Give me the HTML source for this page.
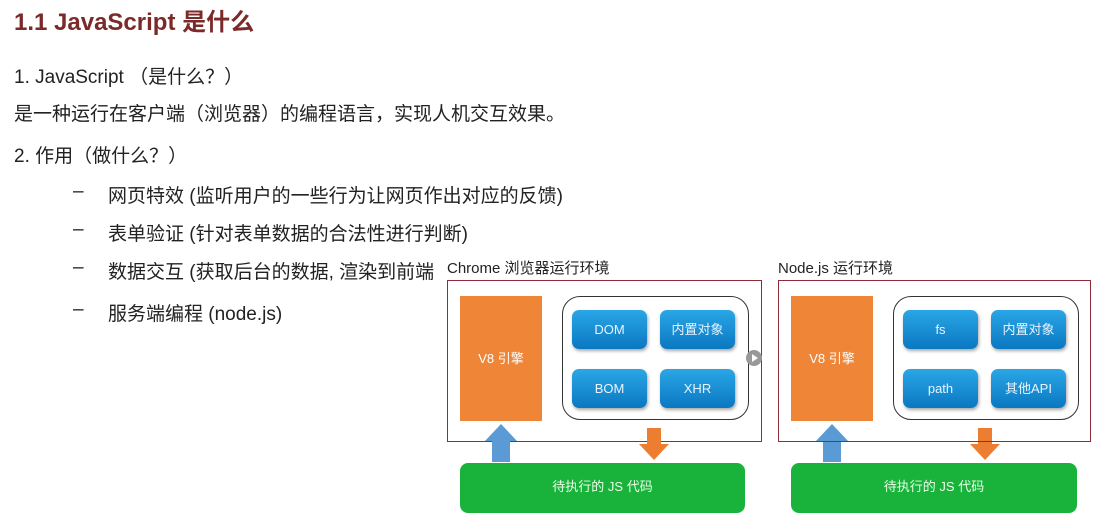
<!DOCTYPE html>
<html><head><meta charset="utf-8"><style>
body{margin:0;width:1096px;height:504px;background:#fff;position:relative;overflow:hidden;font-family:"Liberation Sans","Noto Sans CJK SC",sans-serif;color:#222}
.a{position:absolute;white-space:nowrap}
.t{font-size:19px}
.btn{position:absolute;width:75px;height:39px;border-radius:7px;background:linear-gradient(#2aa6e6,#0a78c2);box-shadow:1px 2px 3px rgba(0,0,0,.35);color:#e8f4ff;font-size:13px;text-align:center;line-height:39px}
.red{position:absolute;border:1.5px solid #8c2d3a;top:280px;height:160px}
.or{position:absolute;background:#ee8537;top:296px;width:82px;height:125px;color:#fff;font-size:13px;text-align:center;line-height:125px}
.rb{position:absolute;border:1.5px solid #333;border-radius:18px;top:296px;height:122px}
.gr{position:absolute;background:#19b33b;border-radius:8px;top:463px;height:50px;color:#e8ffe8;font-size:13px;text-align:center;line-height:48px}
.lbl{position:absolute;top:257px;font-size:15px;color:#222}
</style></head><body>
<div class="a" style="left:14px;top:2px;font-size:24px;font-weight:bold;color:#7b2a2a">1.1 JavaScript 是什么</div>
<div class="a t" style="left:14px;top:62px">1. JavaScript （是什么？）</div>
<div class="a t" style="left:14px;top:99px">是一种运行在客户端（浏览器）的编程语言，实现人机交互效果。</div>
<div class="a t" style="left:14px;top:141px">2. 作用（做什么？）</div>
<div class="a t" style="left:73px;top:181px">–</div><div class="a t" style="left:108px;top:181px">网页特效 (监听用户的一些行为让网页作出对应的反馈)</div>
<div class="a t" style="left:73px;top:219px">–</div><div class="a t" style="left:108px;top:219px">表单验证 (针对表单数据的合法性进行判断)</div>
<div class="a t" style="left:73px;top:257px">–</div><div class="a t" style="left:108px;top:257px">数据交互 (获取后台的数据, 渲染到前端</div>
<div class="a t" style="left:73px;top:299px">–</div><div class="a t" style="left:108px;top:299px">服务端编程 (node.js)</div>

<div class="lbl" style="left:447px;background:#fff">Chrome 浏览器运行环境</div>
<div class="red" style="left:447px;width:313px;background:#fff"></div>
<div class="or" style="left:460px">V8 引擎</div>
<div class="rb" style="left:562px;width:185px"></div>
<div class="btn" style="left:572px;top:310px">DOM</div>
<div class="btn" style="left:660px;top:310px">内置对象</div>
<div class="btn" style="left:572px;top:369px">BOM</div>
<div class="btn" style="left:660px;top:369px">XHR</div>
<div style="position:absolute;left:746px;top:350px;width:16px;height:16px;border-radius:50%;background:#999"></div>
<svg style="position:absolute;left:0;top:0" width="1096" height="504">
<polygon points="752,354 752,362 758,358" fill="#fff"/>
<polygon points="492,462 492,441 485,441 501,424 517,441 510,441 510,462" fill="#5b9bd5"/>
<polygon points="647,428 661,428 661,444 669,444 654,460 639,444 647,444" fill="#ed7d31"/>
<polygon points="823,462 823,441 816,441 832,424 848,441 841,441 841,462" fill="#5b9bd5"/>
<polygon points="978,428 992,428 992,444 1000,444 985,460 970,444 978,444" fill="#ed7d31"/>
</svg>
<div class="gr" style="left:460px;width:285px">待执行的 JS 代码</div>

<div class="lbl" style="left:778px">Node.js 运行环境</div>
<div class="red" style="left:778px;width:311px"></div>
<div class="or" style="left:791px">V8 引擎</div>
<div class="rb" style="left:893px;width:184px"></div>
<div class="btn" style="left:903px;top:310px">fs</div>
<div class="btn" style="left:991px;top:310px">内置对象</div>
<div class="btn" style="left:903px;top:369px">path</div>
<div class="btn" style="left:991px;top:369px">其他API</div>
<div class="gr" style="left:791px;width:286px">待执行的 JS 代码</div>
</body></html>
